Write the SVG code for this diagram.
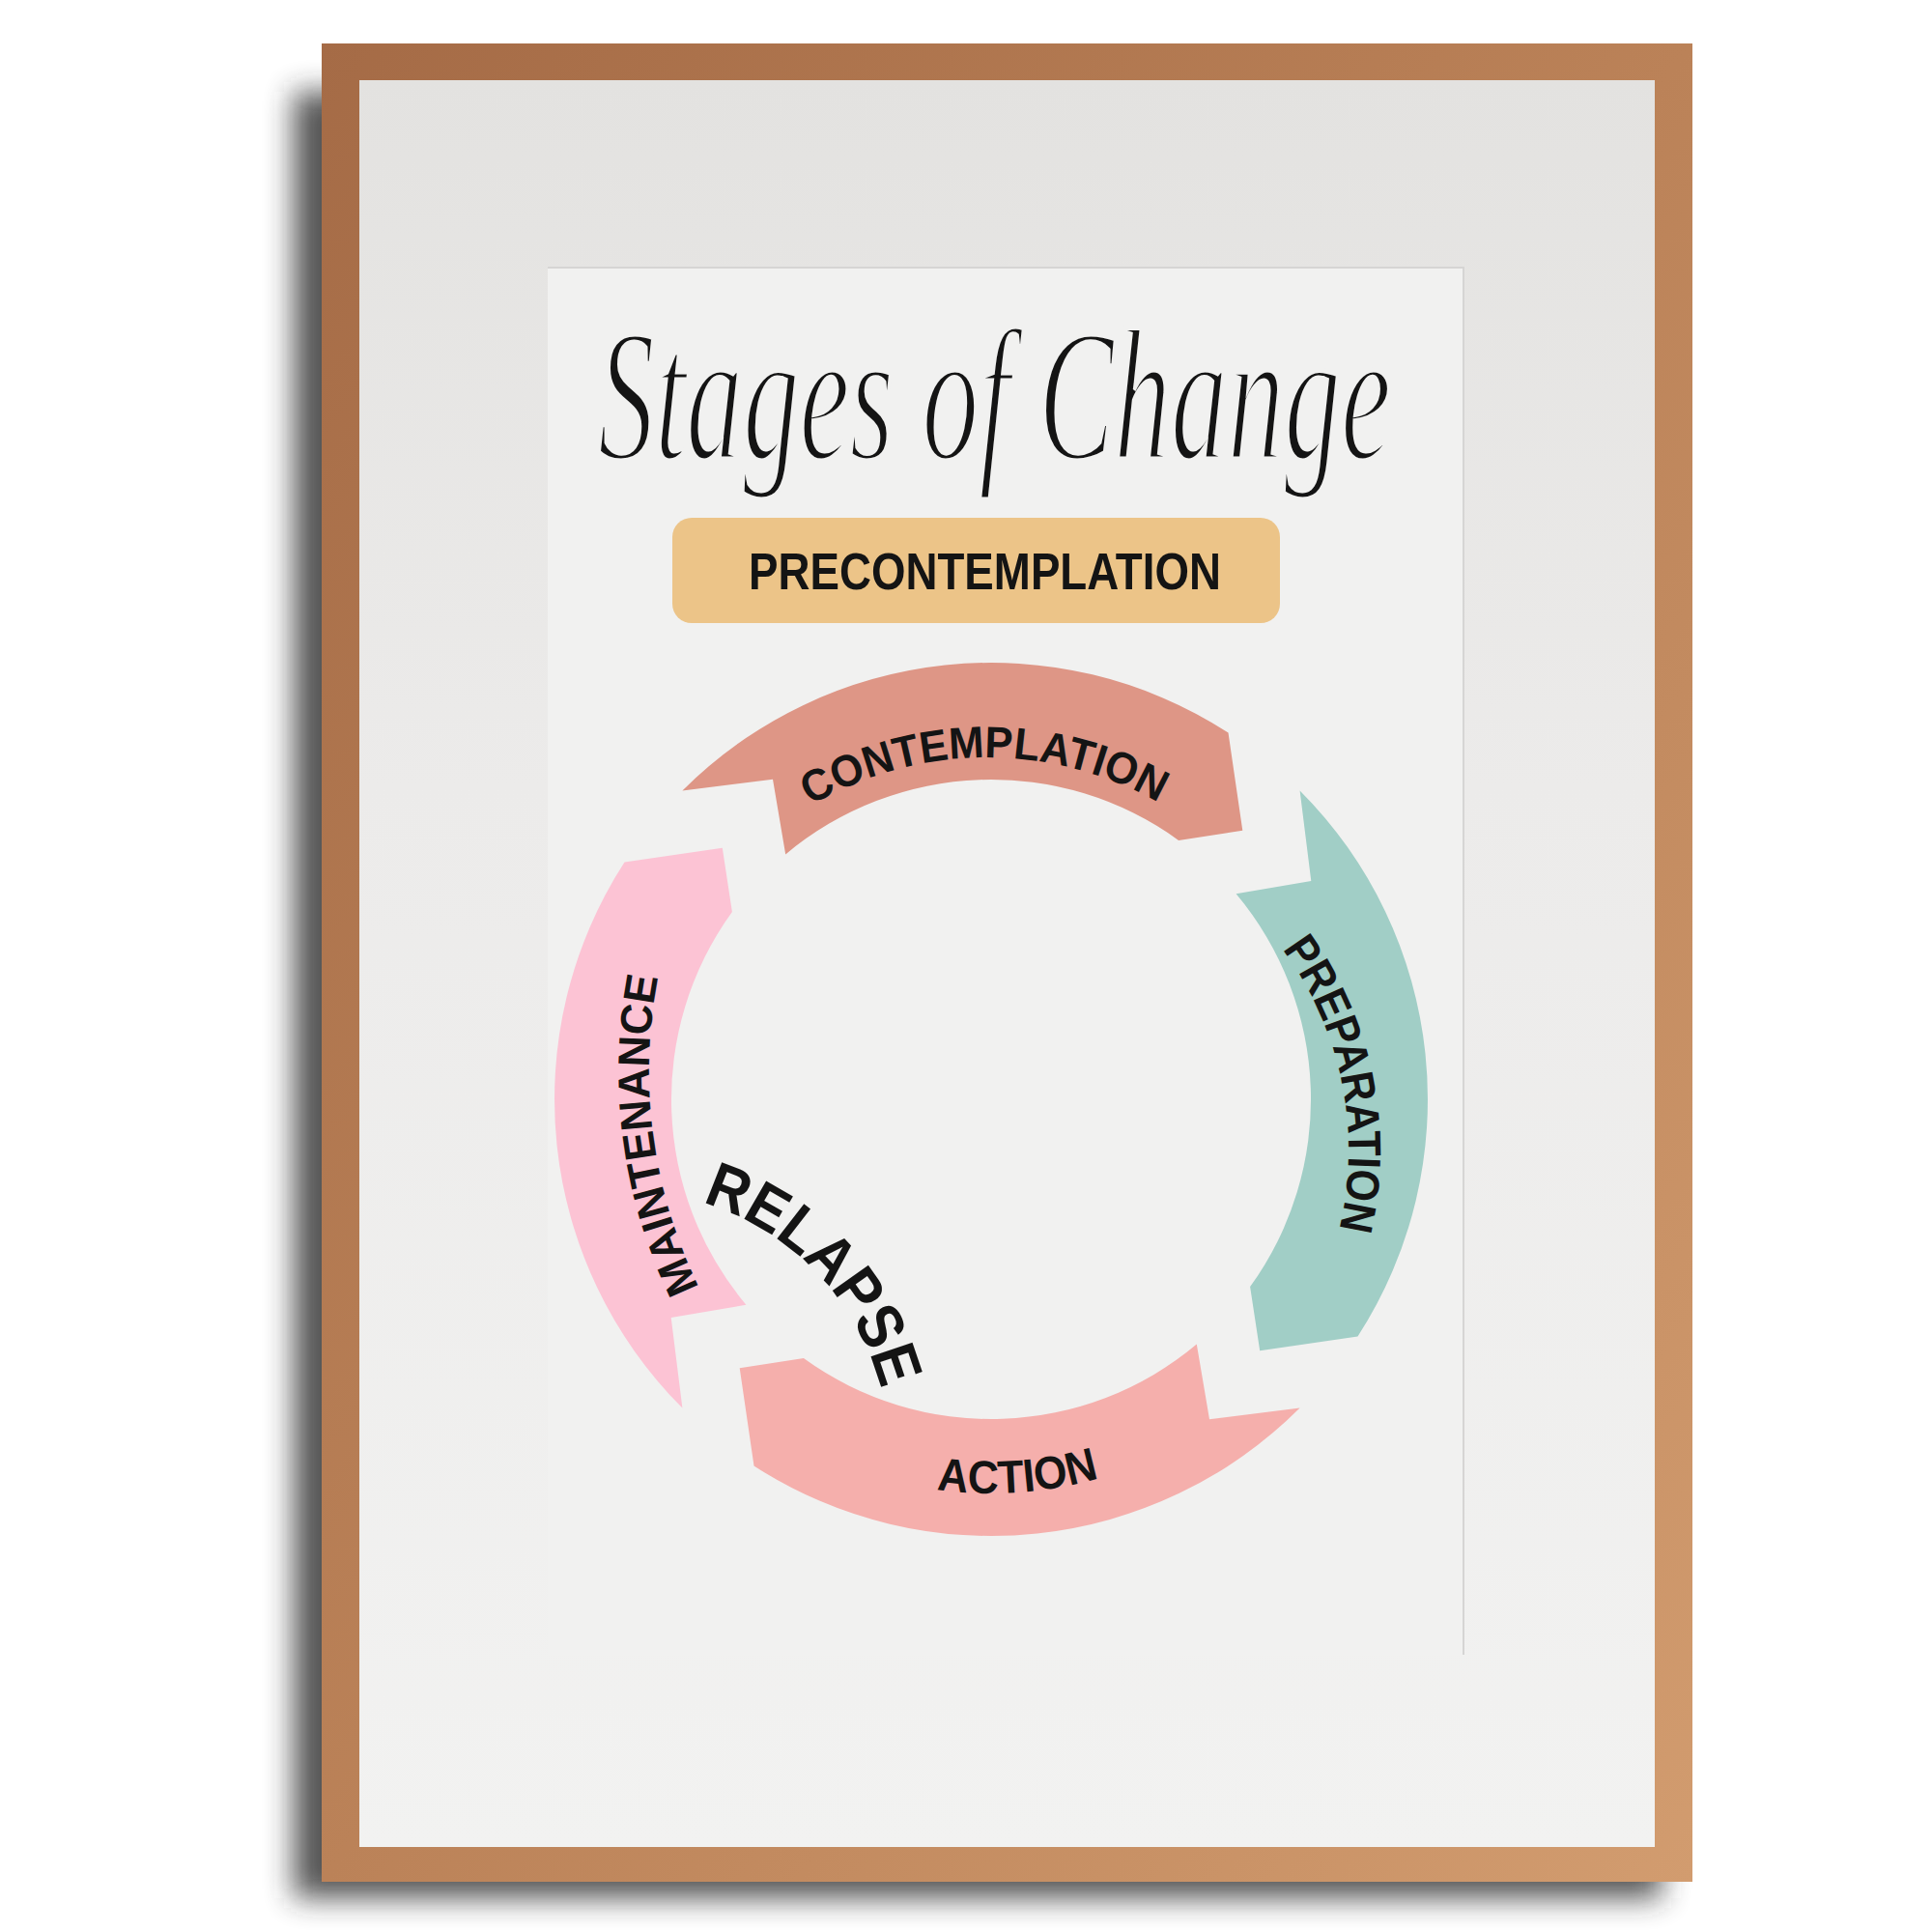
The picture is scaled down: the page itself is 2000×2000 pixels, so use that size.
<svg xmlns="http://www.w3.org/2000/svg" xmlns:xlink="http://www.w3.org/1999/xlink" width="2000" height="2000" viewBox="0 0 2000 2000">
<style>
.lbl{font-family:"Liberation Sans","DejaVu Sans",Arial,sans-serif;font-weight:700;fill:#141414}
.title{font-family:"Liberation Serif","DejaVu Serif",serif;font-style:italic;fill:#141414;stroke:#f1f1f0;stroke-width:5}
</style>
<defs>
<filter id="blur" x="-10%" y="-10%" width="120%" height="120%"><feGaussianBlur stdDeviation="15"/></filter>
<linearGradient id="frameG" x1="0" y1="0" x2="1" y2="1">
<stop offset="0" stop-color="#a56b46"/><stop offset="0.5" stop-color="#bb8258"/><stop offset="1" stop-color="#d29c6f"/>
</linearGradient>
<linearGradient id="matG" x1="0" y1="0" x2="0" y2="1">
<stop offset="0" stop-color="#e3e2e0"/><stop offset="0.4" stop-color="#ecebea"/><stop offset="1" stop-color="#f2f2f1"/>
</linearGradient>
<path id="band" d="M -319.6,-319.6 L -226.0,-331.3 L -212.8,-253.6 A 331 331 0 0 1 194.1,-268.1 L 260.3,-278.2 L 245.5,-379.5 A 452 452 0 0 0 -319.6,-319.6 Z"/>
<path id="pContemplation" d="M 663.1,1115.8 A 360 360 0 0 1 1380.3,1109.5"/>
<path id="pPreparation" d="M 1005.3,842.2 A 351 351 0 0 1 1144.7,1527.5"/>
<path id="pAction" d="M 623.0,1201.8 A 408 408 0 0 0 1433.9,1145.1"/>
<path id="pMaintenance" d="M 986.2,1579.3 A 509 509 0 0 1 871.1,705.2"/>
<path id="pRelapse" d="M 475.3,1293.5 A 274 274 0 0 1 853.2,1687.5"/>
</defs>
<rect x="0" y="0" width="2000" height="2000" fill="#ffffff"/>
<g id="frame">
<rect x="304" y="95" width="1416" height="1870" fill="#2b2b2b" opacity="0.8" filter="url(#blur)"/>
<rect x="333" y="45" width="1419" height="1903" fill="url(#frameG)"/>
<rect x="372" y="83" width="1341" height="1829" fill="url(#matG)"/>
<rect x="567" y="277" width="948" height="1436" fill="#f1f1f0"/>
<path d="M 567,277 L 1515,277 L 1515,1713" fill="none" stroke="#d6d5d4" stroke-width="2"/>
</g>
<g id="title">
<text class="title" x="619" y="475" font-size="196" textLength="821" lengthAdjust="spacingAndGlyphs">Stages of Change</text>
</g>
<g id="precontemplation">
<rect x="696" y="536" width="629" height="109" rx="20" fill="#ecc488"/>
<text class="lbl" x="775" y="610" font-size="54" textLength="489" lengthAdjust="spacingAndGlyphs">PRECONTEMPLATION</text>
</g>
<g id="contemplation">
<use xlink:href="#band" href="#band" transform="translate(1026,1138) rotate(0)" fill="#de9686"/>
<text class="lbl" font-size="46"><textPath xlink:href="#pContemplation" href="#pContemplation" startOffset="50%" text-anchor="middle" textLength="377" lengthAdjust="spacingAndGlyphs">CONTEMPLATION</textPath></text>
</g>
<g id="preparation">
<use xlink:href="#band" href="#band" transform="translate(1026,1138) rotate(90)" fill="#a1cec6"/>
<text class="lbl" font-size="48"><textPath xlink:href="#pPreparation" href="#pPreparation" startOffset="50%" text-anchor="middle" textLength="306" lengthAdjust="spacingAndGlyphs">PREPARATION</textPath></text>
</g>
<g id="action">
<use xlink:href="#band" href="#band" transform="translate(1026,1138) rotate(180)" fill="#f5afac"/>
<text class="lbl" font-size="48"><textPath xlink:href="#pAction" href="#pAction" startOffset="50%" text-anchor="middle" textLength="170" lengthAdjust="spacingAndGlyphs">ACTION</textPath></text>
</g>
<g id="maintenance">
<use xlink:href="#band" href="#band" transform="translate(1026,1138) rotate(270)" fill="#fcc3d4"/>
<text class="lbl" font-size="46"><textPath xlink:href="#pMaintenance" href="#pMaintenance" startOffset="50%" text-anchor="middle" textLength="330" lengthAdjust="spacingAndGlyphs">MAINTENANCE</textPath></text>
</g>
<g id="relapse">
<text class="lbl" font-size="66"><textPath xlink:href="#pRelapse" href="#pRelapse" startOffset="50%" text-anchor="middle" textLength="280" lengthAdjust="spacingAndGlyphs">RELAPSE</textPath></text>
</g>
<g id="connectors"></g>
</svg>
